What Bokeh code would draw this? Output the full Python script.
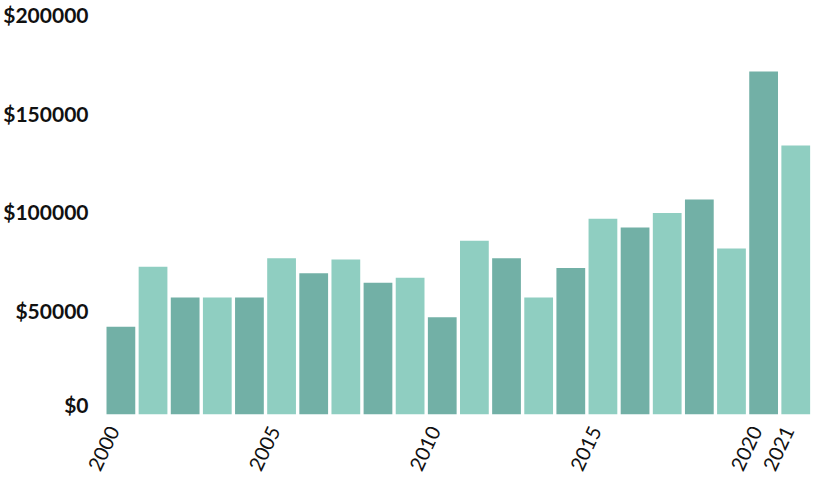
import math
from bokeh.plotting import figure
from bokeh.models import FixedTicker, Range1d, ColumnDataSource
from bokeh.embed import file_html
from bokeh.resources import INLINE

years = list(range(2000, 2022))
values = [44500, 75000, 59400, 59400, 59400, 79300, 71700, 78700, 66900, 69400,
          49400, 88200, 79300, 59400, 74300, 99300, 94900, 102200, 109100, 84300,
          174100, 136500]
tick_years = [2000, 2005, 2010, 2015, 2020, 2021]
y_ticks = [0, 50000, 100000, 150000, 200000]
dark = "#72b0a6"
light = "#8fcec1"
colors = [dark if i % 2 == 0 else light for i in range(len(years))]

src = ColumnDataSource(dict(x=years, top=values, color=colors))

# label anchors nudged slightly from the tick values (ticks themselves are hidden)
x_tick_pos = [y - 0.22 for y in tick_years]
y_tick_pos = [t + 3000 if t > 0 else t + 5000 for t in y_ticks]

p = figure(frame_width=707, frame_height=402, output_backend="svg", toolbar_location=None,
           x_range=Range1d(1999.49, 2021.49), y_range=Range1d(0, 204000),
           min_border_left=0, min_border_right=4, min_border_top=12, min_border_bottom=2)
p.vbar(x="x", top="top", width=0.895, bottom=0, color="color", line_color=None, source=src)

p.xgrid.visible = False
p.ygrid.visible = False
p.outline_line_color = None

p.xaxis.ticker = FixedTicker(ticks=x_tick_pos)
p.xaxis.major_label_overrides = {pos: str(yr) for pos, yr in zip(x_tick_pos, tick_years)}
p.xaxis.major_label_orientation = 1.13
p.xaxis.axis_line_color = None
p.xaxis.major_tick_line_color = None
p.xaxis.minor_tick_line_color = None
p.xaxis.major_label_text_font = "Lato"
p.xaxis.major_label_text_font_size = "20px"
p.xaxis.major_label_text_color = "#111111"
p.xaxis.major_label_standoff = 7

p.yaxis.ticker = FixedTicker(ticks=y_tick_pos)
p.yaxis.major_label_overrides = {pos: "$" + str(t) for pos, t in zip(y_tick_pos, y_ticks)}
p.yaxis.axis_line_color = None
p.yaxis.major_tick_line_color = None
p.yaxis.minor_tick_line_color = None
p.yaxis.major_label_text_font = "Lato"
p.yaxis.major_label_text_font_style = "bold"
p.yaxis.major_label_text_font_size = "21px"
p.yaxis.major_label_text_color = "#111111"
p.yaxis.major_label_standoff = 10

open("out.html", "w").write(file_html(p, INLINE))
